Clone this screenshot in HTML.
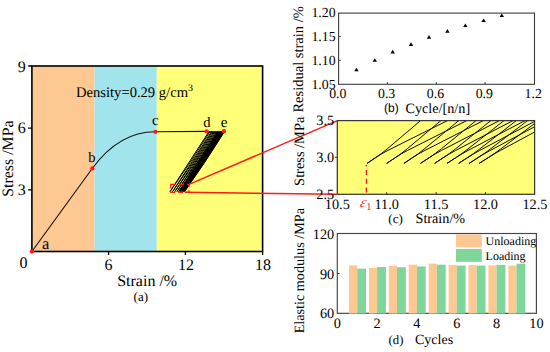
<!DOCTYPE html>
<html><head><meta charset="utf-8"><style>
html,body{margin:0;padding:0;background:#fff;overflow:hidden;}
svg{display:block;font-family:"Liberation Serif",serif;} text{text-rendering:geometricPrecision;}
</style></head><body>
<svg width="550" height="352" viewBox="0 0 550 352">
<rect width="550" height="352" fill="#fff"/>
<rect x="31.9" y="66.0" width="62.7" height="185.5" fill="#fdc892"/>
<rect x="94.6" y="66.0" width="62.2" height="185.5" fill="#a2e4ec"/>
<rect x="156.8" y="66.0" width="105.8" height="185.5" fill="#ffff78"/>
<path d="M31.9 251.5 L92.4 168.3 Q119.3 131.8 155.3 131.8 L206.6 131.4" fill="none" stroke="#111" stroke-width="1.1"/>
<path d="M170.04 191.6 L208.84 131.8 M170.04 191.6 Q190.04 163.60 209.84 131.8 M172.59 191.6 L211.39 131.8 M172.59 191.6 Q192.59 163.60 212.39 131.8 M174.82 191.6 L213.62 131.8 M174.82 191.6 Q194.82 163.60 214.62 131.8 M176.97 191.6 L215.77 131.8 M176.97 191.6 Q196.97 163.60 216.77 131.8 M178.79 191.6 L217.59 131.8 M178.79 191.6 Q198.79 163.60 218.59 131.8 M180.40 191.6 L219.20 131.8 M180.40 191.6 Q200.40 163.60 220.20 131.8 M181.90 191.6 L220.70 131.8 M181.90 191.6 Q201.90 163.60 221.70 131.8 M183.26 191.6 L222.06 131.8 M183.26 191.6 Q203.26 163.60 223.06 131.8 M184.56 191.6 L223.36 131.8 M184.56 191.6 Q204.56 163.60 224.36 131.8" fill="none" stroke="#000" stroke-width="1.0"/>
<path d="M178.79 191.6 L217.59 131.8 L224.66 131.8 Q204.56 163.60 184.56 191.6 Z" fill="#000" opacity="0.85"/>
<path d="M206.6 132.0 L223.9 132.0" stroke="#000" stroke-width="1.6"/>
<rect x="31.9" y="66.0" width="230.7" height="185.5" fill="none" stroke="#000" stroke-width="1.6"/>
<path d="M31.9 66.0 L28.099999999999998 66.0 M31.9 128.2 L28.099999999999998 128.2 M31.9 189.85 L28.099999999999998 189.85 M108.6 251.5 L108.6 255.1 M185.4 251.5 L185.4 255.1 M262.6 251.5 L262.6 255.1" stroke="#000" stroke-width="1.3"/>
<rect x="170.8" y="184.4" width="18.2" height="7.9" fill="none" stroke="#ff1a1a" stroke-width="1.3" stroke-dasharray="5 3"/>
<path d="M189 184.4 L336.8 120.9 M184.75 192.3 L336.8 194.3" stroke="#ff1a1a" stroke-width="1.5" fill="none"/>
<circle cx="31.9" cy="251.5" r="2.15" fill="#ff1a1a"/>
<circle cx="92.4" cy="168.4" r="2.15" fill="#ff1a1a"/>
<circle cx="155.4" cy="131.8" r="2.15" fill="#ff1a1a"/>
<circle cx="206.6" cy="131.4" r="2.15" fill="#ff1a1a"/>
<circle cx="223.9" cy="131.2" r="2.15" fill="#ff1a1a"/>
<text x="25.8" y="71.5" font-size="16" text-anchor="end" font-family="Liberation Serif, serif" >9</text>
<text x="25.8" y="132.9" font-size="16" text-anchor="end" font-family="Liberation Serif, serif" >6</text>
<text x="25.8" y="194.6" font-size="16" text-anchor="end" font-family="Liberation Serif, serif" >3</text>
<text x="27.6" y="268" font-size="16" text-anchor="end" font-family="Liberation Serif, serif" >0</text>
<text x="108.6" y="270.2" font-size="16" text-anchor="middle" font-family="Liberation Serif, serif" >6</text>
<text x="186" y="270.2" font-size="16" text-anchor="middle" font-family="Liberation Serif, serif" >12</text>
<text x="263" y="270.2" font-size="16" text-anchor="middle" font-family="Liberation Serif, serif" >18</text>
<text x="147.2" y="286" font-size="16" text-anchor="middle" font-family="Liberation Serif, serif" >Strain /%</text>
<text x="140.8" y="300.5" font-size="13" text-anchor="middle" font-family="Liberation Serif, serif" >(a)</text>
<text x="76.0" y="97.2" font-size="14.6" text-anchor="start" font-family="Liberation Serif, serif" >Density=0.29 g/cm<tspan dy="-6" font-size="10">3</tspan></text>
<text x="41.9" y="248.7" font-size="16.5" text-anchor="start" font-family="Liberation Serif, serif" >a</text>
<text x="88.3" y="161.6" font-size="14.5" text-anchor="start" font-family="Liberation Serif, serif" >b</text>
<text x="152" y="125.3" font-size="15" text-anchor="start" font-family="Liberation Serif, serif" >c</text>
<text x="203.2" y="127.4" font-size="14.5" text-anchor="start" font-family="Liberation Serif, serif" >d</text>
<text x="220.8" y="127.2" font-size="15" text-anchor="start" font-family="Liberation Serif, serif" >e</text>
<text transform="translate(13.4,158.6) rotate(-90)" font-size="15.9" text-anchor="middle" font-family="Liberation Serif, serif">Stress /MPa</text>
<rect x="338.6" y="13.1" width="195.9" height="71.2" fill="none" stroke="#3c3c3c" stroke-width="1.1"/>
<path d="M387.4 84.3 L387.4 82.1 M436.3 84.3 L436.3 82.1 M485.1 84.3 L485.1 82.1 M338.6 36.6 L340.8 36.6 M338.6 60.4 L340.8 60.4" stroke="#3c3c3c" stroke-width="1"/>
<path d="M354.3 71.3 L358.7 71.3 L356.5 67.7 Z" fill="#000"/>
<path d="M372.6 61.8 L377.0 61.8 L374.8 58.2 Z" fill="#000"/>
<path d="M390.5 53.4 L394.9 53.4 L392.7 49.8 Z" fill="#000"/>
<path d="M408.8 45.9 L413.2 45.9 L411.0 42.3 Z" fill="#000"/>
<path d="M426.8 38.7 L431.2 38.7 L429.0 35.1 Z" fill="#000"/>
<path d="M445.2 32.7 L449.6 32.7 L447.4 29.1 Z" fill="#000"/>
<path d="M463.2 27.1 L467.6 27.1 L465.4 23.5 Z" fill="#000"/>
<path d="M481.4 22.1 L485.8 22.1 L483.6 18.5 Z" fill="#000"/>
<path d="M499.6 17.1 L504.0 17.1 L501.8 13.5 Z" fill="#000"/>
<text x="335.6" y="17.4" font-size="13.8" text-anchor="end" font-family="Liberation Serif, serif" >1.20</text>
<text x="335.6" y="41.0" font-size="13.8" text-anchor="end" font-family="Liberation Serif, serif" >1.15</text>
<text x="335.6" y="64.8" font-size="13.8" text-anchor="end" font-family="Liberation Serif, serif" >1.10</text>
<text x="335.6" y="89.0" font-size="13.8" text-anchor="end" font-family="Liberation Serif, serif" >1.05</text>
<text x="337.8" y="97.8" font-size="13.8" text-anchor="middle" font-family="Liberation Serif, serif" >0.0</text>
<text x="386.64000000000004" y="97.8" font-size="13.8" text-anchor="middle" font-family="Liberation Serif, serif" >0.3</text>
<text x="435.48" y="97.8" font-size="13.8" text-anchor="middle" font-family="Liberation Serif, serif" >0.6</text>
<text x="484.32" y="97.8" font-size="13.8" text-anchor="middle" font-family="Liberation Serif, serif" >0.9</text>
<text x="533.1600000000001" y="97.8" font-size="13.8" text-anchor="middle" font-family="Liberation Serif, serif" >1.2</text>
<text x="384" y="111.6" font-size="12" font-family="Liberation Sans, sans-serif">(b)</text>
<text x="405.5" y="112.8" font-size="14.2" text-anchor="start" font-family="Liberation Serif, serif" >Cycle/[n/n]</text>
<text transform="translate(303.4,59.4) rotate(-90)" font-size="14.5" text-anchor="middle" font-family="Liberation Serif, serif">Residual strain /%</text>
<rect x="337.3" y="120.6" width="197.3" height="73.7" fill="#ffff78"/>
<defs><clipPath id="cc"><rect x="337.3" y="120.6" width="197.3" height="73.7"/></clipPath></defs>
<path d="M367 163.4 L376.00 157.37 Q382.00 153.35 388.00 148.25 L468.00 80.25 M367 163.4 L376.00 157.37 Q382.00 153.35 388.00 150.35 L468.00 110.35 M386.7 163.4 L395.70 157.41 Q401.70 153.41 407.70 148.38 L487.70 81.38 M386.7 163.4 L395.70 157.41 Q401.70 153.41 407.70 150.38 L487.70 109.98 M403.9 163.4 L412.90 157.44 Q418.90 153.47 424.90 148.52 L504.90 82.52 M403.9 163.4 L412.90 157.44 Q418.90 153.47 424.90 150.41 L504.90 109.61 M420.5 163.4 L429.50 157.48 Q435.50 153.53 441.50 148.66 L521.50 83.66 M420.5 163.4 L429.50 157.48 Q435.50 153.53 441.50 150.44 L521.50 109.24 M434.6 163.4 L443.60 157.51 Q449.60 153.59 455.60 148.79 L535.60 84.79 M434.6 163.4 L443.60 157.51 Q449.60 153.59 455.60 150.47 L535.60 108.87 M447 163.4 L456.00 157.55 Q462.00 153.65 468.00 148.93 L548.00 85.93 M447 163.4 L456.00 157.55 Q462.00 153.65 468.00 150.50 L548.00 108.50 M458.6 163.4 L467.60 157.59 Q473.60 153.71 479.60 149.06 L559.60 87.06 M458.6 163.4 L467.60 157.59 Q473.60 153.71 479.60 150.53 L559.60 108.13 M469.1 163.4 L478.10 157.62 Q484.10 153.77 490.10 149.20 L570.10 88.20 M469.1 163.4 L478.10 157.62 Q484.10 153.77 490.10 150.56 L570.10 107.76 M479.2 163.4 L488.20 157.66 Q494.20 153.83 500.20 149.33 L580.20 89.33 M479.2 163.4 L488.20 157.66 Q494.20 153.83 500.20 150.59 L580.20 107.39" stroke="#000" stroke-width="0.95" fill="none" clip-path="url(#cc)"/>
<path d="M366.4 164.7 L366.4 193.6" stroke="#ff1a1a" stroke-width="1.4" stroke-dasharray="5 3.7" stroke-dashoffset="3.3"/>
<rect x="337.3" y="120.6" width="197.3" height="73.7" fill="none" stroke="#383838" stroke-width="1.25"/>
<path d="M386.7 194.3 L386.7 192.10000000000002 M436.1 194.3 L436.1 192.10000000000002 M485.5 194.3 L485.5 192.10000000000002 M337.3 157.3 L334.8 157.3" stroke="#333" stroke-width="1"/>
<text x="334.2" y="125.2" font-size="14.3" text-anchor="end" font-family="Liberation Serif, serif" >3.5</text>
<text x="334.2" y="161.9" font-size="14.3" text-anchor="end" font-family="Liberation Serif, serif" >3.0</text>
<text x="334.2" y="198.7" font-size="14.3" text-anchor="end" font-family="Liberation Serif, serif" >2.5</text>
<text x="337.3" y="209" font-size="14.3" text-anchor="middle" font-family="Liberation Serif, serif" >10.5</text>
<text x="386.7" y="209" font-size="14.3" text-anchor="middle" font-family="Liberation Serif, serif" >11.0</text>
<text x="436.1" y="209" font-size="14.3" text-anchor="middle" font-family="Liberation Serif, serif" >11.5</text>
<text x="485.5" y="209" font-size="14.3" text-anchor="middle" font-family="Liberation Serif, serif" >12.0</text>
<text x="534.9" y="209" font-size="14.3" text-anchor="middle" font-family="Liberation Serif, serif" >12.5</text>
<g transform="translate(359.6,207) skewX(-14)"><text x="0" y="0" font-size="14.5" font-style="italic" fill="#ff1a1a" font-family="Liberation Serif, serif">ε</text></g>
<text x="366.2" y="209.8" font-size="10.5" fill="#ff1a1a" font-family="Liberation Serif, serif">1</text>
<text x="388.3" y="223.0" font-size="13" text-anchor="start" font-family="Liberation Serif, serif" >(c)</text>
<text x="415.5" y="223.2" font-size="14.2" text-anchor="start" font-family="Liberation Serif, serif" >Strain/%</text>
<text transform="translate(303.6,151.3) rotate(-90)" font-size="14.4" text-anchor="middle" font-family="Liberation Serif, serif">Stress /MPa</text>
<rect x="455.9" y="234.5" width="25.9" height="12.9" fill="#fdc892"/>
<rect x="455.9" y="249" width="25.9" height="12.8" fill="#7fd69a"/>
<rect x="337.3" y="233.5" width="199.1" height="79.8" fill="none" stroke="#444" stroke-width="1.15"/>
<rect x="349.0" y="265.4" width="8.2" height="48.2" fill="#fdc892"/>
<rect x="357.2" y="268.6" width="8.8" height="45.0" fill="#7fd69a"/>
<rect x="368.9" y="268.0" width="8.2" height="45.6" fill="#fdc892"/>
<rect x="377.1" y="267.0" width="8.8" height="46.6" fill="#7fd69a"/>
<rect x="388.8" y="265.7" width="8.2" height="47.9" fill="#fdc892"/>
<rect x="397.0" y="267.2" width="8.8" height="46.4" fill="#7fd69a"/>
<rect x="408.7" y="264.7" width="8.2" height="48.9" fill="#fdc892"/>
<rect x="416.9" y="266.5" width="8.8" height="47.1" fill="#7fd69a"/>
<rect x="428.7" y="263.7" width="8.2" height="49.9" fill="#fdc892"/>
<rect x="436.9" y="264.7" width="8.8" height="48.9" fill="#7fd69a"/>
<rect x="448.6" y="264.9" width="8.2" height="48.7" fill="#fdc892"/>
<rect x="456.8" y="265.6" width="8.8" height="48.0" fill="#7fd69a"/>
<rect x="468.5" y="265.1" width="8.2" height="48.5" fill="#fdc892"/>
<rect x="476.7" y="265.6" width="8.8" height="48.0" fill="#7fd69a"/>
<rect x="488.4" y="265.3" width="8.2" height="48.3" fill="#fdc892"/>
<rect x="496.6" y="264.9" width="8.8" height="48.7" fill="#7fd69a"/>
<rect x="508.3" y="265.6" width="8.2" height="48.0" fill="#fdc892"/>
<rect x="516.5" y="263.7" width="8.8" height="49.9" fill="#7fd69a"/>
<path d="M337.3 273.5 L339.5 273.5" stroke="#333" stroke-width="1"/>
<text x="485.6" y="245.3" font-size="12" text-anchor="start" font-family="Liberation Serif, serif" >Unloading</text>
<text x="485.6" y="259.8" font-size="12" text-anchor="start" font-family="Liberation Serif, serif" >Loading</text>
<text x="334.2" y="238.8" font-size="14.3" text-anchor="end" font-family="Liberation Serif, serif" >120</text>
<text x="334.2" y="279.1" font-size="14.3" text-anchor="end" font-family="Liberation Serif, serif" >90</text>
<text x="334.2" y="318.4" font-size="14.3" text-anchor="end" font-family="Liberation Serif, serif" >60</text>
<text x="337.3" y="328.4" font-size="14.3" text-anchor="middle" font-family="Liberation Serif, serif" >0</text>
<text x="377.12" y="328.4" font-size="14.3" text-anchor="middle" font-family="Liberation Serif, serif" >2</text>
<text x="416.94" y="328.4" font-size="14.3" text-anchor="middle" font-family="Liberation Serif, serif" >4</text>
<text x="456.76" y="328.4" font-size="14.3" text-anchor="middle" font-family="Liberation Serif, serif" >6</text>
<text x="496.58" y="328.4" font-size="14.3" text-anchor="middle" font-family="Liberation Serif, serif" >8</text>
<text x="536.4" y="328.4" font-size="14.3" text-anchor="middle" font-family="Liberation Serif, serif" >10</text>
<text x="388.6" y="343.6" font-size="12.7" text-anchor="start" font-family="Liberation Serif, serif" >(d)</text>
<text x="415" y="344.1" font-size="14" text-anchor="start" font-family="Liberation Serif, serif" >Cycles</text>
<text transform="translate(303.7,270.7) rotate(-90)" font-size="14.2" text-anchor="middle" font-family="Liberation Serif, serif">Elastic modulus /MPa</text>
</svg>
</body></html>
